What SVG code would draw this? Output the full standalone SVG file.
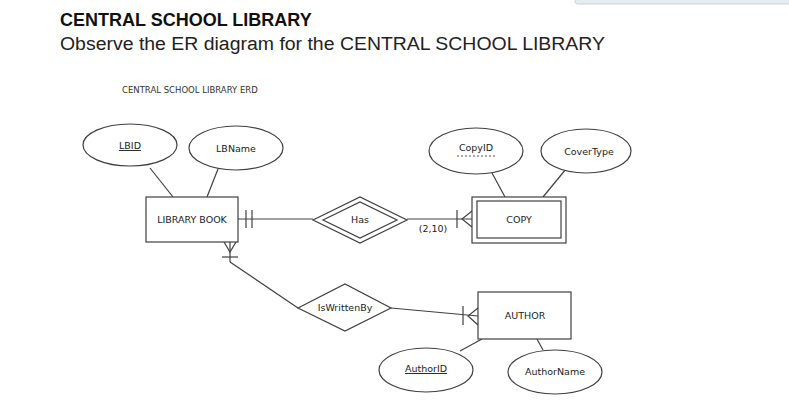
<svg xmlns="http://www.w3.org/2000/svg" width="789" height="411" viewBox="0 0 789 411">
<style>
.s{fill:#fff;stroke:#404040;stroke-width:1.2}
.l{fill:none;stroke:#404040;stroke-width:1.2}
.t{font-family:"DejaVu Sans",Verdana,sans-serif;font-size:9.5px;fill:#222;text-anchor:middle}
</style>
<rect width="789" height="411" fill="#fff"/>
<rect x="575" y="-4" width="220" height="8" rx="3" fill="#e4ecf0" stroke="#c8d4da"/>
<text x="60" y="26" font-family="Liberation Sans,Arial,sans-serif" font-size="18" font-weight="bold" fill="#111">CENTRAL SCHOOL LIBRARY</text>
<text x="60" y="50" font-family="Liberation Sans,Arial,sans-serif" font-size="18" fill="#222" textLength="545" lengthAdjust="spacingAndGlyphs">Observe the ER diagram for the CENTRAL SCHOOL LIBRARY</text>
<text x="122" y="93" font-family="DejaVu Sans,Verdana,sans-serif" font-size="8.5" fill="#333">CENTRAL SCHOOL LIBRARY ERD</text>
<g id="connectors" class="l">
<line x1="150" y1="168" x2="173" y2="197"/>
<line x1="218" y1="169" x2="207" y2="197"/>
<line x1="492" y1="173" x2="505" y2="197"/>
<line x1="566" y1="169" x2="543" y2="197"/>
<line x1="238" y1="219" x2="313" y2="219"/>
<line x1="246" y1="210" x2="246" y2="228"/><line x1="252" y1="210" x2="252" y2="228"/>
<line x1="407" y1="219" x2="472" y2="219"/>
<line x1="457" y1="210" x2="457" y2="228"/>
<path d="M472 211 L462 219 L472 227"/>
<path d="M224 242 L230 252 L236 242"/>
<line x1="230" y1="242" x2="230" y2="262"/>
<line x1="222" y1="257" x2="238" y2="257"/>
<line x1="230" y1="262" x2="298" y2="308"/>
<line x1="391" y1="308" x2="478" y2="316"/>
<line x1="463" y1="306" x2="463" y2="325"/>
<path d="M478 308 L468 316 L478 325"/>
<line x1="482" y1="339" x2="460" y2="351"/>
<line x1="537" y1="339" x2="543" y2="350"/>
</g>
<g id="lbid"><ellipse class="s" cx="130" cy="145" rx="47" ry="21"/><text class="t" x="130" y="149" text-decoration="underline">LBID</text></g>
<g id="lbname"><ellipse class="s" cx="236" cy="148" rx="47" ry="22"/><text class="t" x="236" y="152">LBName</text></g>
<g id="copyid"><ellipse class="s" cx="476" cy="151" rx="47" ry="23"/><text class="t" x="476" y="151">CopyID</text><line x1="457" y1="156" x2="496" y2="156" stroke="#555" stroke-dasharray="2,2"/></g>
<g id="covertype"><ellipse class="s" cx="586" cy="151" rx="45" ry="22"/><text class="t" x="589" y="155">CoverType</text></g>
<g id="librarybook"><rect class="s" x="146" y="197" width="92" height="45"/><text class="t" x="192" y="223">LIBRARY BOOK</text></g>
<g id="has"><polygon class="s" points="313,220 360,197 407,220 360,243"/><polygon class="s" points="323,220 360,202 397,220 360,238"/><text class="t" x="360" y="223">Has</text></g>
<text class="t" x="433" y="232">(2,10)</text>
<g id="copy"><rect class="s" x="472" y="197" width="94" height="46"/><rect class="s" x="477" y="201" width="84" height="37"/><text class="t" x="519" y="223">COPY</text></g>
<g id="iswrittenby"><polygon class="s" points="298,308 345,284 391,308 345,331"/><text class="t" x="345" y="311">IsWrittenBy</text></g>
<g id="author"><rect class="s" x="478" y="292" width="93" height="47"/><text class="t" x="525" y="319">AUTHOR</text></g>
<g id="authorid"><ellipse class="s" cx="426" cy="370" rx="47" ry="22"/><text class="t" x="426" y="372" text-decoration="underline">AuthorID</text></g>
<g id="authorname"><ellipse class="s" cx="555" cy="372" rx="47" ry="22"/><text class="t" x="555" y="375">AuthorName</text></g>
</svg>
